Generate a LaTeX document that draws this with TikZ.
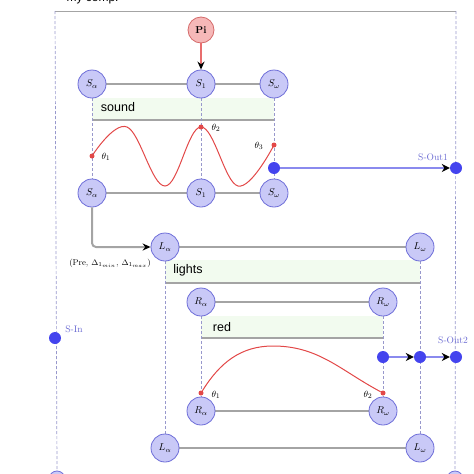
\documentclass[tikz,border=0pt]{standalone}
\usepackage{fontspec}
\newfontfamily\lblfont{Liberation Sans}
\usetikzlibrary{arrows.meta}
\definecolor{nfill}{HTML}{C9C9F7}
\definecolor{ndraw}{HTML}{6E6ED8}
\definecolor{pifill}{HTML}{F6B8B8}
\definecolor{pidraw}{HTML}{D46A6A}
\definecolor{curvered}{HTML}{E24848}
\definecolor{portblue}{HTML}{4444EE}
\definecolor{flowblue}{HTML}{8A8AEE}
\definecolor{dashblue}{HTML}{9898CC}
\definecolor{linkgray}{HTML}{A4A4A4}
\definecolor{regfill}{HTML}{F2FBEF}
\definecolor{lbltxt}{HTML}{6A6AD2}
\pgfdeclarelayer{bg}
\pgfsetlayers{bg,main}
\begin{document}
\begin{tikzpicture}[x=1pt,y=-1pt,
  state/.style={circle, draw=ndraw, fill=nfill, line width=0.8pt, minimum size=28pt, inner sep=0pt, font=\fontsize{10}{12}\selectfont},
  pinode/.style={circle, draw=pidraw, fill=pifill, line width=0.8pt, minimum size=26pt, inner sep=0pt, font=\fontsize{10}{12}\selectfont\bfseries},
  port/.style={circle, fill=portblue, minimum size=12pt, inner sep=0pt},
  tdot/.style={circle, fill=curvered, minimum size=5pt, inner sep=0pt},
  guide/.style={draw=dashblue, line width=0.7pt, dash pattern=on 3pt off 2pt},
  link/.style={draw=linkgray, line width=1.2pt},
  regline/.style={draw=linkgray, line width=1.3pt},
  region/.style={fill=regfill},
  flow/.style={draw=flowblue, line width=2.8pt, -{Stealth[black, length=8pt, width=8pt]}},
  wave/.style={draw=curvered, line width=1pt},
  rlabel/.style={font=\fontsize{12.5}{14}\selectfont\lblfont},
  plabel/.style={text=lbltxt, font=\fontsize{9.5}{11}\selectfont},
  tlabel/.style={font=\fontsize{9.5}{11}\selectfont},
]
\useasboundingbox (0,0) rectangle (474,474);
\clip (0,0) rectangle (474,474);

% header
\node[anchor=base west, font=\fontsize{12}{14}\selectfont\lblfont] (hdr) at (63,1) {my comp.};
\coordinate (hl) at (55,11);
\coordinate (hr) at (456,11);

% nodes
\node[pinode] (pi) at (201,30) {Pi};
\node[state] (sa1) at (92,84) {$S_\alpha$};
\node[state] (s11) at (201,84) {$S_1$};
\node[state] (sw1) at (274,84) {$S_\omega$};
\node[state] (sa2) at (92,193) {$S_\alpha$};
\node[state] (s12) at (201,193) {$S_1$};
\node[state] (sw2) at (274,193) {$S_\omega$};
\node[state] (la1) at (165,247) {$L_\alpha$};
\node[state] (lw1) at (420,247) {$L_\omega$};
\node[state] (ra1) at (201,302) {$R_\alpha$};
\node[state] (rw1) at (383,302) {$R_\omega$};
\node[state] (ra2) at (201,411) {$R_\alpha$};
\node[state] (rw2) at (383,411) {$R_\omega$};
\node[state] (la2) at (165,448) {$L_\alpha$};
\node[state] (lw2) at (420,448) {$L_\omega$};
\node[state, minimum size=16pt] (bend1) at (57,479) {};
\node[state, minimum size=16pt] (bend2) at (455,479) {};

% ports
\node[port] (o1a) at (274,168) {};
\node[port] (o1b) at (456,168) {};
\node[port] (o2a) at (383,357) {};
\node[port] (o2b) at (420,357) {};
\node[port] (o2c) at (456,357) {};
\node[port] (sin) at (55,338) {};
\node[plabel] (lo1) at (433,157) {S-Out1};
\node[plabel] (lo2) at (453,340) {S-Out2};
\node[plabel] (lin) at (74,329) {S-In};

% region labels
\node[rlabel] (snd) at (118,107) {sound};
\node[rlabel] (lgt) at (188,270) {lights};
\node[rlabel] (rdl) at (222,327) {red};
\node[font=\fontsize{8.5}{10}\selectfont] (pre) at (110,263) {(Pre, $\Delta_{1_{min}}$, $\Delta_{1_{max}}$)};

% theta dots and labels
\node[tdot] (t1) at (92,156) {};
\node[tdot] (t2) at (201,127) {};
\node[tdot] (t3) at (274,145) {};
\node[tdot] (u1) at (201,393) {};
\node[tdot] (u2) at (383,393) {};
\node[tlabel] at (106,157) {$\theta_1$};
\node[tlabel] at (216,128) {$\theta_2$};
\node[tlabel] at (259,146) {$\theta_3$};
\node[tlabel] at (216,395) {$\theta_1$};
\node[tlabel] at (368,395) {$\theta_2$};

\begin{pgfonlayer}{bg}
  % regions
  \fill[region] (92,98) rectangle (274,120);
  \draw[regline] (92,120) -- (274,120);
  \fill[region] (165,260) rectangle (420,283);
  \draw[regline] (165,283) -- (420,283);
  \fill[region] (201,316) rectangle (383,338);
  \draw[regline] (201,338) -- (383,338);
  % outer frame
  \draw[link, line width=1pt] (hl) -- (hr);
  \draw[guide] (hl) -- (bend1.north);
  \draw[guide] (hr) -- (bend2.north);
  % guides
  \draw[guide] (sa1) -- (sa2);
  \draw[guide] (s11) -- (s12);
  \draw[guide] (sw1) -- (sw2);
  \draw[guide] (la1) -- (la2);
  \draw[guide] (lw1) -- (lw2);
  \draw[guide] (ra1) -- (ra2);
  \draw[guide] (rw1) -- (rw2);
  % links
  \draw[link] (sa1) -- (s11) -- (sw1);
  \draw[link] (sa2) -- (s12) -- (sw2);
  \draw[link] (la1) -- (lw1);
  \draw[link] (ra1) -- (rw1);
  \draw[link] (ra2) -- (rw2);
  \draw[link] (la2) -- (lw2);
\end{pgfonlayer}

% pi arrow
\draw[draw=curvered!80, line width=1.6pt, -{Stealth[black, length=8pt, width=7pt]}] (pi) -- (s11);
% pre arrow
\draw[draw=linkgray, line width=2pt, rounded corners=4pt, -{Stealth[black, length=8pt, width=7pt]}] (sa2.south) |- (la1.west);

% waves
\draw[wave] plot[smooth, tension=0.65] coordinates {(92,156) (127,127) (165,186) (201,127) (238,186) (274,145)};
\draw[wave] (u1) to[out=58,in=180] (273,346) to[out=0,in=152] (u2);

% flows
\draw[flow] (o1a) -- (o1b);
\draw[flow] (o2a) -- (o2b);
\draw[flow] (o2b) -- (o2c);
\end{tikzpicture}
\end{document}
